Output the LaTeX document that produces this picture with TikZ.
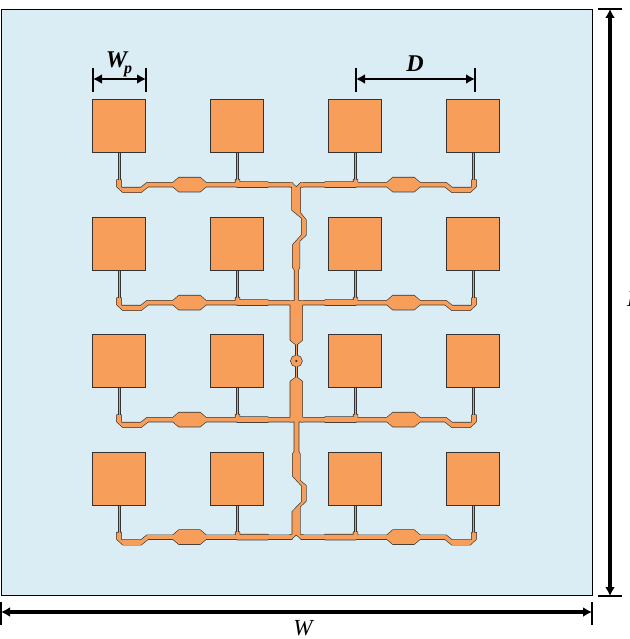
\documentclass[tikz,border=0pt]{standalone}
\usepackage{fontspec}
\setmainfont{Liberation Serif}
\usetikzlibrary{arrows.meta}

\definecolor{boardblue}{HTML}{DBEDF4}
\definecolor{copper}{HTML}{F79F5A}
\definecolor{edgedark}{HTML}{333333}

\tikzset{
  feedline/.style={draw=edgedark, line width=1.3pt, line join=round},
  feedfill/.style={fill=copper},
  dimline/.style={line width=#1, {Latex[length=9pt,width=10pt]}-{Latex[length=9pt,width=10pt]}},
  dimtick/.style={line width=1.3pt},
  dimlabel/.style={font=\fontsize{23}{25}\selectfont\itshape, inner sep=0pt}
}

% all of the microstrip network, in picture coordinates
\newcommand{\feednet}[1]{
  \foreach \yoff in {0, 118, 235, 352.5}{
    \foreach \xoff/\xflip in {0/1, 593/-1}{
      \begin{scope}[shift={(\xoff,\yoff)}, xscale=\xflip]
        \path[#1] (119,152) rectangle (120,180);
        \path[#1] (237,152) rectangle (238,180);
        \path[#1] (116.7,180) -- (121.3,180) -- (121.3,187.5) -- (141,187.5) -- (147,182.7) -- (173,182.7)
          -- (179,177.5) -- (200,177.5) -- (206,182.7) -- (235.5,182.7) -- (235.5,179.5) -- (239.5,179.5)
          -- (239.5,182) -- (268,182) -- (268,182.7) -- (292,182.7) -- (292,186.7) -- (268,186.7)
          -- (268,187.2) -- (237,187.2) -- (237,186.7) -- (206,186.7) -- (200,191.7) -- (179,191.7)
          -- (173,186.7) -- (148,186.7) -- (141,192.3) -- (123,192.3) -- (116.7,186.5) -- cycle;
      \end{scope}
    }
  }
  % upper branch
  \path[#1] (290,182.7) -- (291.7,182.7) -- (296.3,187.2) -- (301,182.7) -- (303,182.7) -- (303,186.7)
    -- (300.3,186.7) -- (300.3,213) -- (306,220) -- (306,235) -- (299.5,241) -- (299.5,267) -- (298.3,270)
    -- (298.3,301) -- (294.5,301) -- (294.5,270) -- (292.7,267) -- (292.7,245) -- (301.7,235) -- (301.7,218)
    -- (292,210) -- (292,186.7) -- (290,186.7) -- cycle;
  % centre, with the probe
  \path[#1] (290,300.7) -- (303,300.7) -- (303,304.7) -- (302.3,304.7) -- (302.3,340) -- (296.4,345)
    -- (290.3,340) -- (290.3,304.7) -- (290,304.7) -- cycle;
  \path[#1] (295.9,345) rectangle (296.9,377);
  \path[#1] (296.4,361) circle (5.6);
  \path[#1] (296.4,377) -- (302.3,381.5) -- (302.3,417.7) -- (303,417.7) -- (303,421.7) -- (290,421.7)
    -- (290,417.7) -- (290.3,417.7) -- (290.3,381.5) -- cycle;
  % lower branch
  \path[#1] (294.3,421) -- (298.7,421) -- (298.7,451.7) -- (300,454) -- (300,480.7) -- (306,485.7)
    -- (306,501) -- (300,506.7) -- (300,534.7) -- (303,534.7) -- (303,538.7) -- (301,538.7) -- (296.2,534.5)
    -- (291.7,538.7) -- (290,538.7) -- (290,534.7) -- (292.3,534.7) -- (292.3,511.7) -- (301.7,502)
    -- (301.7,485.7) -- (292.7,476) -- (292.7,454) -- (294.3,451.7) -- cycle;
}

\begin{document}
\begin{tikzpicture}[x=1pt, y=-1pt]
  \useasboundingbox (0,0) rectangle (629,639);

  \draw[fill=boardblue, line width=0.8pt] (1,9) rectangle (592,595);

  \feednet{feedline}
  \feednet{feedfill}
  \fill[edgedark] (296.4,361) circle (1.2);

  \foreach \ypatch in {99, 217, 334, 452}{
    \foreach \xpatch in {92.7, 210.7, 328.7, 446.7}{
      \draw[fill=copper, draw=edgedark, line width=0.9pt] (\xpatch,\ypatch) rectangle ++(53,53);
    }
  }

  % dimensions
  \coordinate (wpleft) at (93,79);
  \coordinate (wpright) at (146,79);
  \draw[dimtick] (93,68) -- (93,92);
  \draw[dimtick] (146,68) -- (146,92);
  \draw[dimline=2.4pt] (wpleft) -- (wpright);
  \node[dimlabel, font=\fontsize{24}{26}\selectfont\bfseries\itshape] (wplabel) at (119,64) {W\kern-3pt\raisebox{-6pt}{\fontsize{16}{16}\selectfont p}};

  \coordinate (dleft) at (356,79);
  \coordinate (dright) at (475,79);
  \draw[dimtick] (356,68) -- (356,92);
  \draw[dimtick] (475,68) -- (475,92);
  \draw[dimline=2.4pt] (dleft) -- (dright);
  \node[dimlabel, font=\fontsize{24}{26}\selectfont\bfseries\itshape] (dlabel) at (415,63.5) {D};

  \coordinate (wleft) at (1,612);
  \coordinate (wright) at (592,612);
  \draw[dimtick] (1,602) -- (1,625);
  \draw[dimtick] (592,602) -- (592,625);
  \draw[dimline=3.2pt] (wleft) -- (wright);
  \node[dimlabel] (wlabel) at (303,628.5) {W};

  \coordinate (htop) at (610,9);
  \coordinate (hbottom) at (610,596);
  \draw[dimtick] (598,9) -- (622,9);
  \draw[dimtick] (598,596) -- (622,596);
  \draw[dimline=3.6pt] (htop) -- (hbottom);
  \node[dimlabel, anchor=west] (hlabel) at (627,299) {H};
\end{tikzpicture}
\end{document}
